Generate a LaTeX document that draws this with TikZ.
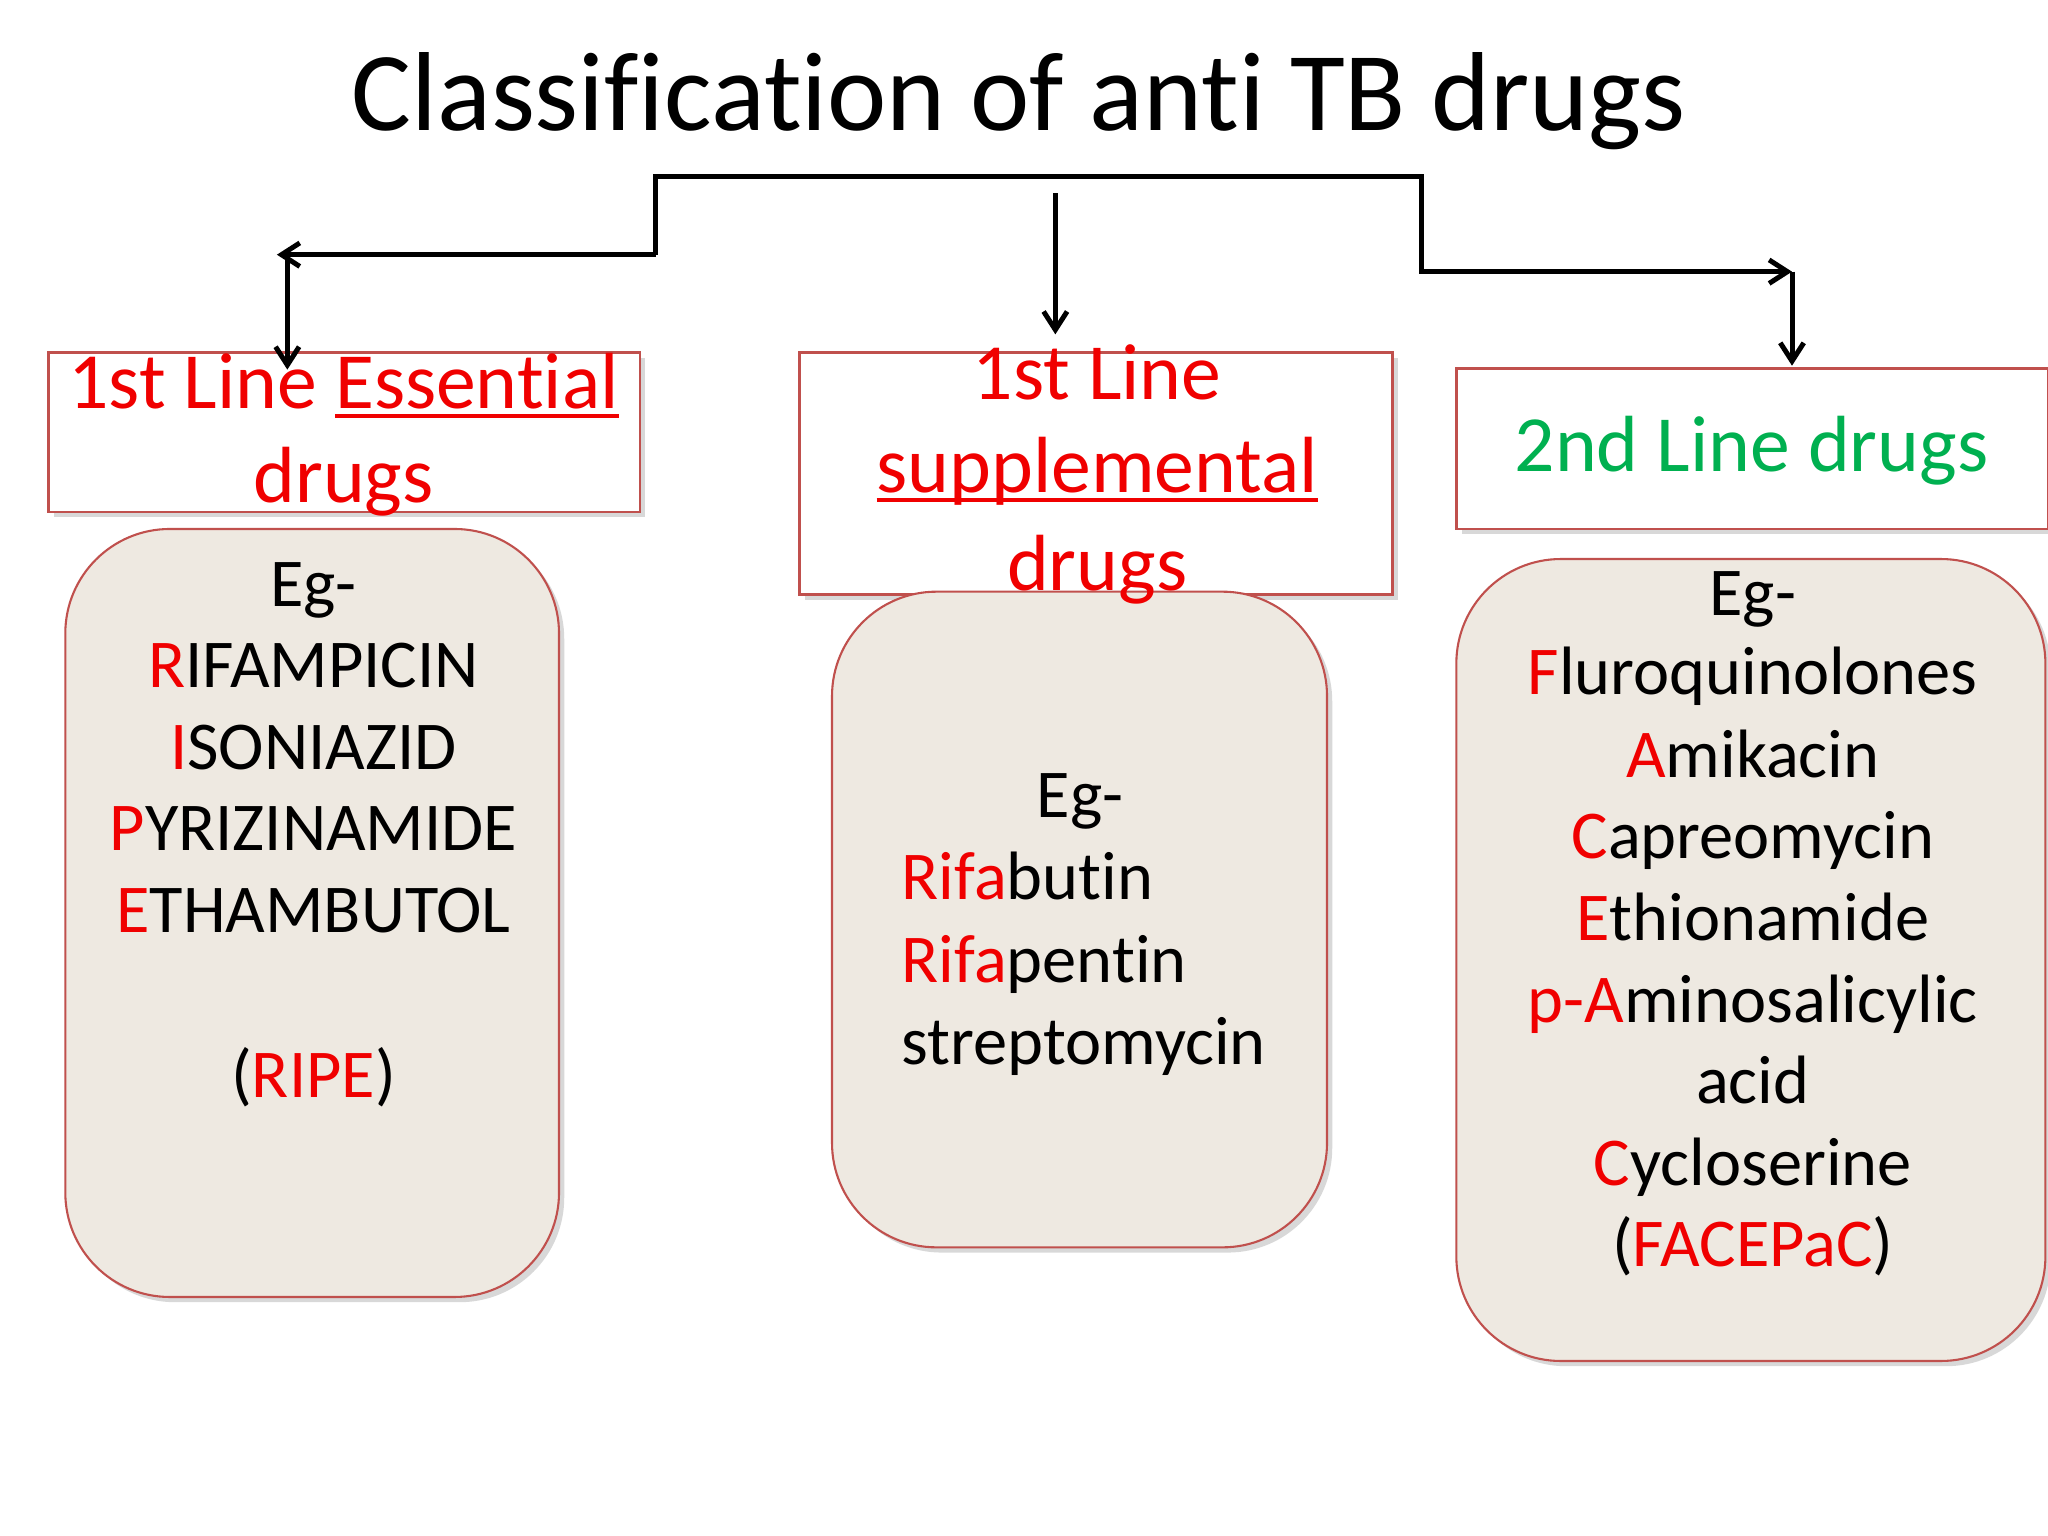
\documentclass[tikz,border=0pt]{standalone}
\usepackage{fontspec}
\setmainfont{Carlito}[Ligatures=NoCommon]
\usetikzlibrary{arrows.meta,shadows}
\definecolor{rd}{HTML}{F00000}
\definecolor{gr}{HTML}{00B050}
\definecolor{bg}{HTML}{EEE9E1}
\definecolor{bd}{HTML}{C0504D}
\newcommand{\R}[1]{\textcolor{rd}{#1}}
\newcommand{\ulx}[1]{\setbox0\hbox{#1}\rlap{\rule[-3.5pt]{\wd0}{1.4pt}}\box0}
\begin{document}
\begin{tikzpicture}[x=0.5pt,y=-0.5pt,
  hdr/.style={draw=bd,line width=1pt,fill=white,drop shadow={shadow xshift=2pt,shadow yshift=-2pt,opacity=0.3}},
  rbox/.style={draw=bd,line width=0.8pt,fill=bg,rounded corners=40pt,drop shadow={shadow xshift=2pt,shadow yshift=-2pt,opacity=0.3}},
  body/.style={anchor=base,font=\fontsize{26.2}{28}\selectfont,inner sep=0},
  head/.style={anchor=base,font=\fontsize{30.5}{32}\selectfont,inner sep=0},
  con/.style={line width=1.9pt,-{Straight Barb[length=7pt,width=9pt]}}]
\useasboundingbox (0,0) rectangle (1568,1176);
\fill[white] (0,0) rectangle (1568,1176);
\node[anchor=base,font=\fontsize{43}{45}\selectfont,inner sep=0] (title) at (780,100) {Classification of anti TB drugs};
% boxes
\draw[hdr] (37,270) rectangle (490,392);
\draw[hdr] (612,270) rectangle (1066,455);
\draw[hdr] (1115,282) rectangle (1568,405);
\draw[rbox] (50,405) rectangle (428,993);
\draw[rbox] (637,453) rectangle (1016,955);
\draw[rbox] (1115,428) rectangle (1566,1042);
\coordinate (b1) at (220,283);
\coordinate (b2) at (808,256);
\coordinate (b3) at (1372,280);
% header texts
\node[head,text=rd] (h1a) at (263,313) {1st Line \ulx{Essential}};
\node[head,text=rd] (h1b) at (263,385) {drugs};
\node[head,text=rd] (h2a) at (840,306) {1st Line};
\node[head,text=rd] (h2b) at (840,377) {\ulx{supplemental}};
\node[head,text=rd] (h2c) at (840,452) {drugs};
\node[head,text=gr] (h3) at (1341,361) {2nd Line drugs};
% box 1
\node[body] (a1) at (240,464) {Eg-};
\node[body] (a2) at (240,526) {\R{R}IFAMPICIN};
\node[body] (a3) at (240,589) {\R{I}SONIAZID};
\node[body] (a4) at (240,651) {\R{P}YRIZINAMIDE};
\node[body] (a5) at (240,714) {\R{E}THAMBUTOL};
\node[body] (a6) at (240,840) {(\R{RIPE})};
% box 2
\node[body] (c1) at (827,626) {Eg-};
\node[body,anchor=base west] (c2) at (690,689) {\R{Rifa}butin};
\node[body,anchor=base west] (c3) at (690,752) {\R{Rifa}pentin};
\node[body,anchor=base west] (c4) at (690,815) {streptomycin};
% box 3
\node[body] (d1) at (1342,471) {Eg-};
\node[body] (d2) at (1342,532) {\R{F}luroquinolones};
\node[body] (d3) at (1342,595) {\R{A}mikacin};
\node[body] (d4) at (1342,657) {\R{C}apreomycin};
\node[body] (d5) at (1342,720) {\R{E}thionamide};
\node[body] (d6) at (1342,783) {\R{p-A}minosalicylic};
\node[body] (d7) at (1342,845) {acid};
\node[body] (d8) at (1342,908) {\R{C}ycloserine};
\node[body] (d9) at (1342,970) {(\R{FACEPaC})};
% connectors
\coordinate (j1) at (502,195);
\coordinate (j2) at (212,195);
\coordinate (j3) at (220,195);
\coordinate (j4) at (1372,208);
\coordinate (m0) at (808,148);
\draw[con] (j1) -- (502,135) -- (1088,135) -- (1088,208) -- (j4);
\draw[con] (j1) -- (j2);
\draw[con] (j3) -- (b1);
\draw[con] (j4) -- (b3);
\draw[con] (m0) -- (b2);
\end{tikzpicture}
\end{document}
